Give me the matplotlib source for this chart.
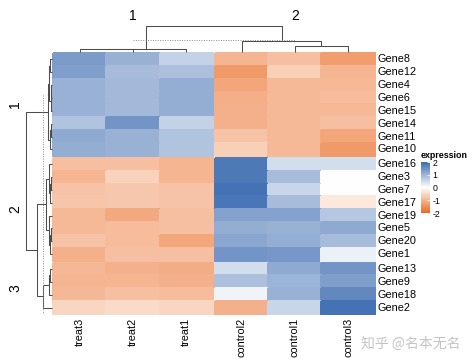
import numpy as np
import matplotlib
matplotlib.use('Agg')
import matplotlib.pyplot as plt
from matplotlib.colors import LinearSegmentedColormap, Normalize
from matplotlib.cm import ScalarMappable

plt.rcParams['axes.unicode_minus'] = False

### Data (display order)
genes = ['Gene8','Gene12','Gene4','Gene6','Gene15','Gene14','Gene11','Gene10',
         'Gene16','Gene3','Gene7','Gene17','Gene19','Gene5','Gene20','Gene1',
         'Gene13','Gene9','Gene18','Gene2']
samples = ['treat3','treat2','treat1','control2','control1','control3']
row_split = [8,8,4]
col_split = [3,3]

expr = np.array([
    [ 1.35, 1.05, 0.60, -1.00,-0.85,-1.30],
    [ 1.30, 0.90, 0.85, -1.35,-0.65,-1.00],
    [ 1.05, 0.95, 1.10, -1.20,-0.93,-0.93],
    [ 1.05, 0.95, 1.10, -1.07,-0.93,-0.90],
    [ 1.05, 0.95, 1.10, -1.05,-0.93,-0.93],
    [ 0.80, 1.45, 0.60, -1.05,-0.93,-0.85],
    [ 1.15, 1.05, 0.80, -0.80,-0.93,-1.20],
    [ 1.10, 1.05, 0.80, -0.65,-0.93,-1.35],
    [-0.85,-0.85,-1.00,  1.80, 0.45, 0.45],
    [-1.00,-0.60,-1.00,  1.80, 0.90, 0.00],
    [-0.80,-0.75,-0.80,  1.90, 0.55, 0.00],
    [-0.78,-0.75,-0.80,  1.85, 0.90,-0.30],
    [-0.93,-1.15,-0.85,  1.25, 1.25, 0.75],
    [-0.93,-0.90,-0.85,  1.10, 1.05, 1.15],
    [-0.80,-0.90,-1.20,  1.20, 1.10, 0.90],
    [-1.05,-0.85,-0.85,  1.45, 1.40, 0.20],
    [-0.95,-1.05,-1.10,  0.45, 1.15, 1.45],
    [-1.00,-1.00,-1.05,  0.85, 1.00, 1.30],
    [-0.95,-0.85,-0.90,  0.15, 1.05, 1.60],
    [-0.55,-0.50,-0.55, -1.05, 0.55, 1.90]])

### Dendrograms: (left, right, height), leaves are display indices
col_tree = (((0,1,3.0),2,3.5),(3,(4,5,6.0),11.0),26.0)
col_cut = 12.0
row_tree = (
    (((0,1,1.5),((2,3,0.5),4,1.0),2.5),((5,6,1.2),7,2.0),3.5),
    (((8,((9,10,1.0),11,1.5),3.0),(12,((13,14,1.0),15,1.8),3.0),6.3),
     ((((16,17,2.0),18,3.0),19,8.7)),15.0),
    26.0)
row_cut = 9.0

### Layout (pixels)
W, H = 474, 363
hm_left, hm_top = 53, 53
col_w, row_h, gap = 53.3, 12.85, 2.0
dend_size = 26.0
line_col = '#4d4d4d'

fig = plt.figure(figsize=(W/100, H/100), dpi=100)
ax = fig.add_axes([0,0,1,1])
ax.set_xlim(0, W)
ax.set_ylim(H, 0)
ax.axis('off')

cmap = LinearSegmentedColormap.from_list('expr', ['#EA6A22','#FFFFFF','#3C6BB0'])
norm = Normalize(-2, 2)

col_block = np.repeat(np.arange(len(col_split)), col_split)
row_block = np.repeat(np.arange(len(row_split)), row_split)
col_left = hm_left + np.arange(len(samples))*col_w + col_block*gap
row_top = hm_top + np.arange(len(genes))*row_h + row_block*gap
col_mid = col_left + col_w/2
row_mid = row_top + row_h/2

### Heatmap blocks
r0 = 0
for rb, nr in enumerate(row_split):
    c0 = 0
    for cb, nc in enumerate(col_split):
        xe = np.append(col_left[c0:c0+nc], col_left[c0+nc-1] + col_w)
        ye = np.append(row_top[r0:r0+nr], row_top[r0+nr-1] + row_h)
        ax.pcolormesh(xe, ye, expr[r0:r0+nr, c0:c0+nc], cmap=cmap, norm=norm,
                      edgecolors='face', linewidth=0.3)
        c0 += nc
    r0 += nr

### Dendrogram drawing
def draw_tree(node, leafpos, base, scale, vertical):
    if isinstance(node, int):
        return leafpos[node], 0.0
    left, right, h = node
    p1, h1 = draw_tree(left, leafpos, base, scale, vertical)
    p2, h2 = draw_tree(right, leafpos, base, scale, vertical)
    a1, a2, ah = base - h1*scale, base - h2*scale, base - h*scale
    if vertical:
        ax.plot([p1,p1,p2,p2], [a1,ah,ah,a2], color=line_col, lw=0.75,
                solid_capstyle='butt')
    else:
        ax.plot([a1,ah,ah,a2], [p1,p1,p2,p2], color=line_col, lw=0.75,
                solid_capstyle='butt')
    return (p1+p2)/2, h

base_c = hm_top - 1
sc = dend_size/col_tree[2]
draw_tree(col_tree, col_mid, base_c, sc, True)
blk_c = [col_mid[col_block==b].mean() for b in range(len(col_split))]
ax.plot([blk_c[0], blk_c[-1]], [base_c-col_cut*sc]*2, color='#888888', lw=0.7, ls=(0,(1,1.5)))

base_r = hm_left - 1
sr = dend_size/row_tree[2]
draw_tree(row_tree, row_mid, base_r, sr, False)
blk_r = [row_mid[row_block==b].mean() for b in range(len(row_split))]
ax.plot([base_r-row_cut*sr]*2, [blk_r[0]-9, row_top[-1]+row_h], color='#888888', lw=0.7, ls=(0,(1,1.5)))

### Labels
lab_font = 'Liberation Sans'
for g, y in zip(genes, row_mid):
    ax.text(hm_left + 6*col_w + gap + 2.5, y, g, ha='left', va='center',
            fontsize=7.8, family=lab_font)
for s, x in zip(samples, col_mid):
    ax.text(x, row_top[-1] + row_h + 4, s, ha='center', va='top', rotation=90,
            fontsize=7.8, family=lab_font)
for i, x in enumerate(blk_c):
    ax.text(x, 16, str(i+1), ha='center', va='center', fontsize=10, family=lab_font)
for i, y in enumerate(blk_r):
    ax.text(15, y, str(i+1), ha='center', va='center', rotation=90, fontsize=10,
            family=lab_font)

### Colour legend
ax.text(421, 155, 'expression', ha='left', va='center', fontsize=6.4,
        fontweight='bold', family=lab_font)
cax = fig.add_axes([421/W, 1-213/H, 9/W, 51/H])
cb = fig.colorbar(ScalarMappable(norm=norm, cmap=cmap), cax=cax)
cb.outline.set_visible(False)
cb.set_ticks([-2,-1,0,1,2])
cb.ax.tick_params(length=2, width=0.6, color='white', direction='in',
                  labelsize=6.3, pad=2)
for t in cb.ax.get_yticklabels():
    t.set_family(lab_font)

### Watermark
ax.text(411, 344, '知乎 @名本无名', ha='center', va='center', fontsize=10,
        color='#c4c4c4', family=['Noto Sans CJK SC','DejaVu Sans'])

plt.savefig('out.png', dpi=100)
